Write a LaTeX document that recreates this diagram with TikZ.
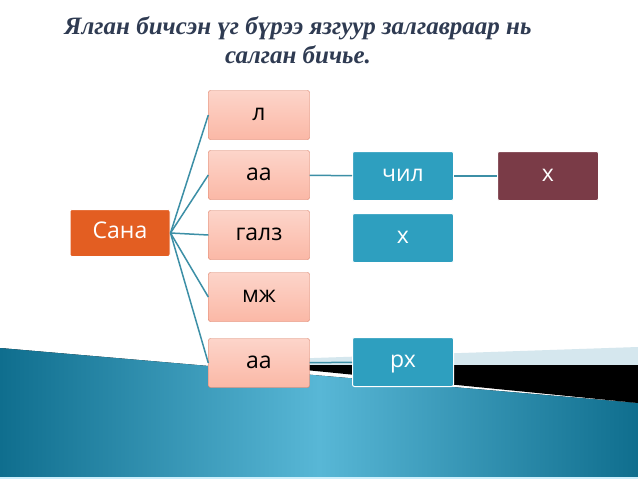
\documentclass[tikz,border=0pt]{standalone}
\usepackage{fontspec}
\setmainfont{Liberation Serif}
\newfontfamily\boxfont{Open Sans}
\definecolor{ttl}{HTML}{2F3B52}
\definecolor{pinkf}{HTML}{FBB8A6}
\definecolor{pinkd}{HTML}{D9795F}
\definecolor{orng}{HTML}{E35E22}
\definecolor{teal}{HTML}{2E9FBF}
\definecolor{maroon}{HTML}{7A3B47}
\definecolor{lnk}{HTML}{3C8FA6}
\definecolor{bdk}{HTML}{0F6E8E}
\definecolor{blt}{HTML}{58B7D6}
\definecolor{strip}{HTML}{D5E7EE}
\begin{document}
\begin{tikzpicture}[x=1pt,y=-1pt,
  bx/.style={rounded corners=2pt,minimum width=101pt,minimum height=49pt,font=\boxfont\fontsize{23}{24}\selectfont,inner sep=0pt,text height=13pt,text depth=3pt},
  pk/.style={bx,draw=pinkd,top color=pinkf!60!white,bottom color=pinkf},
  tl/.style={bx,fill=teal,draw=white,line width=1pt,text=white},
  lk/.style={draw=lnk,line width=1.5pt}]
\useasboundingbox (0,0) rectangle (638,479);
\fill[white] (0,0) rectangle (638,479);
\fill[left color=bdk,right color=bdk,middle color=blt] (0,348) -- (638,403) -- (638,477) -- (0,477) -- cycle;
\fill[cyan!20] (0,477) rectangle (638,479);
\fill[strip] (255,360) -- (638,347) -- (638,365) -- (255,365) -- cycle;
\fill[black] (255,365) -- (638,365) -- (638,403) -- cycle;
\node[font=\bfseries\itshape\fontsize{25}{29}\selectfont,text=ttl,align=center] (title) at (298,40) {Ялган бичсэн үг бүрээ язгуур залгавраар нь\\салган бичье.};
\node[bx,fill=orng,draw=white,line width=1pt,text=white,minimum width=100pt,minimum height=47pt] (s) at (120,233) {Сана};
\node[pk] (p1) at (259,115) {л};
\node[pk] (p2) at (259,175) {аа};
\node[pk] (p3) at (259,235) {галз};
\node[pk] (p4) at (259,297) {мж};
\node[pk] (p5) at (259,363) {аа};
\node[tl] (t1) at (403,176) {чил};
\node[tl] (t2) at (403,238) {х};
\node[tl] (t3) at (403,362) {рх};
\node[bx,fill=maroon,draw=white,line width=1pt,text=white] (m) at (548,176) {х};
\foreach \p in {p1,p2,p3,p4,p5} \draw[lk] (s.east) -- (\p.west);
\draw[lk] (p2) -- (t1);
\draw[lk] (t1) -- (m);
\draw[lk] (p5) -- (t3);
\end{tikzpicture}
\end{document}
